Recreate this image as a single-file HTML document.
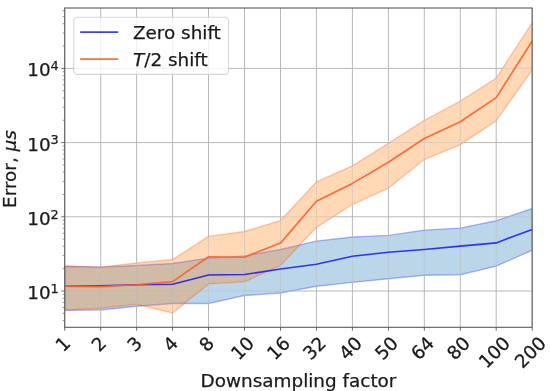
<!DOCTYPE html>
<html><head><meta charset="utf-8"><title>Error vs downsampling factor</title>
<style>
html,body{margin:0;padding:0;background:#fff;}
svg{display:block;}
text{font-family:"DejaVu Sans","Liberation Sans",sans-serif;fill:#1a1a1a;stroke:#1a1a1a;stroke-width:0.25px;}
.it{font-style:italic;}
</style></head><body>
<svg width="550" height="391" viewBox="0 0 550 391">
<rect width="550" height="391" fill="#fff"/>
<defs><clipPath id="c"><rect x="64.7" y="8.0" width="467.50000000000006" height="319.3"/></clipPath></defs>

<g clip-path="url(#c)">
<polygon points="64.7,266.2 100.7,267.1 136.6,265.5 172.6,263.5 208.5,258.1 244.5,255.9 280.5,249.5 316.4,241.1 352.4,237.0 388.4,235.4 424.3,230.1 460.3,228.1 496.2,220.8 532.2,208.5 532.2,250.2 496.2,266.2 460.3,274.8 424.3,275.3 388.4,278.8 352.4,282.4 316.4,286.3 280.5,293.0 244.5,295.5 208.5,303.5 172.6,303.5 136.6,306.3 100.7,310.0 64.7,310.3" fill="#1f77b4" fill-opacity="0.3" stroke="#0000ff" stroke-opacity="0.28" stroke-width="1.4" stroke-linejoin="miter"/>
<polygon points="64.7,266.2 100.7,267.1 136.6,263.0 172.6,259.5 208.5,236.4 244.5,231.5 280.5,220.6 316.4,181.9 352.4,165.8 388.4,143.4 424.3,120.4 460.3,101.2 496.2,78.2 532.2,22.7 532.2,70.0 496.2,120.8 460.3,144.7 424.3,159.5 388.4,188.1 352.4,204.5 316.4,227.3 280.5,265.3 244.5,281.7 208.5,283.9 172.6,312.9 136.6,304.3 100.7,308.2 64.7,310.3" fill="#ff7f0e" fill-opacity="0.3" stroke="#ff4500" stroke-opacity="0.28" stroke-width="1.4" stroke-linejoin="miter"/>
<mask id="m" maskUnits="userSpaceOnUse" x="0" y="0" width="550" height="391"><rect width="550" height="391" fill="#fff"/><polygon points="64.7,266.2 100.7,267.1 136.6,265.5 172.6,263.5 208.5,258.1 244.5,255.9 280.5,249.5 316.4,241.1 352.4,237.0 388.4,235.4 424.3,230.1 460.3,228.1 496.2,220.8 532.2,208.5 532.2,250.2 496.2,266.2 460.3,274.8 424.3,275.3 388.4,278.8 352.4,282.4 316.4,286.3 280.5,293.0 244.5,295.5 208.5,303.5 172.6,303.5 136.6,306.3 100.7,310.0 64.7,310.3" fill="#6e6e6e"/><polygon points="64.7,266.2 100.7,267.1 136.6,263.0 172.6,259.5 208.5,236.4 244.5,231.5 280.5,220.6 316.4,181.9 352.4,165.8 388.4,143.4 424.3,120.4 460.3,101.2 496.2,78.2 532.2,22.7 532.2,70.0 496.2,120.8 460.3,144.7 424.3,159.5 388.4,188.1 352.4,204.5 316.4,227.3 280.5,265.3 244.5,281.7 208.5,283.9 172.6,312.9 136.6,304.3 100.7,308.2 64.7,310.3" fill="#6e6e6e"/></mask>
<g stroke="#b8b8b8" stroke-width="1.0" fill="none" mask="url(#m)">
<line x1="64.7" y1="8.0" x2="64.7" y2="327.3"/>
<line x1="100.7" y1="8.0" x2="100.7" y2="327.3"/>
<line x1="136.6" y1="8.0" x2="136.6" y2="327.3"/>
<line x1="172.6" y1="8.0" x2="172.6" y2="327.3"/>
<line x1="208.5" y1="8.0" x2="208.5" y2="327.3"/>
<line x1="244.5" y1="8.0" x2="244.5" y2="327.3"/>
<line x1="280.5" y1="8.0" x2="280.5" y2="327.3"/>
<line x1="316.4" y1="8.0" x2="316.4" y2="327.3"/>
<line x1="352.4" y1="8.0" x2="352.4" y2="327.3"/>
<line x1="388.4" y1="8.0" x2="388.4" y2="327.3"/>
<line x1="424.3" y1="8.0" x2="424.3" y2="327.3"/>
<line x1="460.3" y1="8.0" x2="460.3" y2="327.3"/>
<line x1="496.2" y1="8.0" x2="496.2" y2="327.3"/>
<line x1="532.2" y1="8.0" x2="532.2" y2="327.3"/>
<line x1="64.7" y1="291.0" x2="532.2" y2="291.0"/>
<line x1="64.7" y1="216.8" x2="532.2" y2="216.8"/>
<line x1="64.7" y1="142.6" x2="532.2" y2="142.6"/>
<line x1="64.7" y1="68.4" x2="532.2" y2="68.4"/>
</g>
<polyline points="64.7,286.3 100.7,285.8 136.6,284.8 172.6,284.3 208.5,275.0 244.5,274.5 280.5,269.0 316.4,264.2 352.4,256.2 388.4,252.3 424.3,249.5 460.3,246.1 496.2,242.9 532.2,229.4" fill="none" stroke="#0000ff" stroke-opacity="0.76" stroke-width="1.65" stroke-linejoin="round"/>
<polyline points="64.7,286.3 100.7,286.6 136.6,284.8 172.6,281.6 208.5,256.8 244.5,257.2 280.5,243.1 316.4,201.3 352.4,183.4 388.4,162.3 424.3,138.5 460.3,121.8 496.2,97.6 532.2,41.0" fill="none" stroke="#ff5f2e" stroke-opacity="0.92" stroke-width="1.65" stroke-linejoin="round"/>
</g>
<g stroke="#6a6a6a" stroke-width="1.0" fill="none">
<line x1="64.7" y1="327.3" x2="64.7" y2="330.7"/>
<line x1="100.7" y1="327.3" x2="100.7" y2="330.7"/>
<line x1="136.6" y1="327.3" x2="136.6" y2="330.7"/>
<line x1="172.6" y1="327.3" x2="172.6" y2="330.7"/>
<line x1="208.5" y1="327.3" x2="208.5" y2="330.7"/>
<line x1="244.5" y1="327.3" x2="244.5" y2="330.7"/>
<line x1="280.5" y1="327.3" x2="280.5" y2="330.7"/>
<line x1="316.4" y1="327.3" x2="316.4" y2="330.7"/>
<line x1="352.4" y1="327.3" x2="352.4" y2="330.7"/>
<line x1="388.4" y1="327.3" x2="388.4" y2="330.7"/>
<line x1="424.3" y1="327.3" x2="424.3" y2="330.7"/>
<line x1="460.3" y1="327.3" x2="460.3" y2="330.7"/>
<line x1="496.2" y1="327.3" x2="496.2" y2="330.7"/>
<line x1="532.2" y1="327.3" x2="532.2" y2="330.7"/>
<line x1="61.3" y1="291.0" x2="64.7" y2="291.0"/>
<line x1="61.3" y1="216.8" x2="64.7" y2="216.8"/>
<line x1="61.3" y1="142.6" x2="64.7" y2="142.6"/>
<line x1="61.3" y1="68.4" x2="64.7" y2="68.4"/>
</g>
<g stroke="#8a8a8a" stroke-width="0.9" fill="none">
<line x1="62.7" y1="320.5" x2="64.7" y2="320.5"/>
<line x1="62.7" y1="313.3" x2="64.7" y2="313.3"/>
<line x1="62.7" y1="307.5" x2="64.7" y2="307.5"/>
<line x1="62.7" y1="302.5" x2="64.7" y2="302.5"/>
<line x1="62.7" y1="298.2" x2="64.7" y2="298.2"/>
<line x1="62.7" y1="294.4" x2="64.7" y2="294.4"/>
<line x1="62.7" y1="268.7" x2="64.7" y2="268.7"/>
<line x1="62.7" y1="255.6" x2="64.7" y2="255.6"/>
<line x1="62.7" y1="246.3" x2="64.7" y2="246.3"/>
<line x1="62.7" y1="239.1" x2="64.7" y2="239.1"/>
<line x1="62.7" y1="233.3" x2="64.7" y2="233.3"/>
<line x1="62.7" y1="228.3" x2="64.7" y2="228.3"/>
<line x1="62.7" y1="224.0" x2="64.7" y2="224.0"/>
<line x1="62.7" y1="220.2" x2="64.7" y2="220.2"/>
<line x1="62.7" y1="194.5" x2="64.7" y2="194.5"/>
<line x1="62.7" y1="181.4" x2="64.7" y2="181.4"/>
<line x1="62.7" y1="172.1" x2="64.7" y2="172.1"/>
<line x1="62.7" y1="164.9" x2="64.7" y2="164.9"/>
<line x1="62.7" y1="159.1" x2="64.7" y2="159.1"/>
<line x1="62.7" y1="154.1" x2="64.7" y2="154.1"/>
<line x1="62.7" y1="149.8" x2="64.7" y2="149.8"/>
<line x1="62.7" y1="146.0" x2="64.7" y2="146.0"/>
<line x1="62.7" y1="120.3" x2="64.7" y2="120.3"/>
<line x1="62.7" y1="107.2" x2="64.7" y2="107.2"/>
<line x1="62.7" y1="97.9" x2="64.7" y2="97.9"/>
<line x1="62.7" y1="90.7" x2="64.7" y2="90.7"/>
<line x1="62.7" y1="84.9" x2="64.7" y2="84.9"/>
<line x1="62.7" y1="79.9" x2="64.7" y2="79.9"/>
<line x1="62.7" y1="75.6" x2="64.7" y2="75.6"/>
<line x1="62.7" y1="71.8" x2="64.7" y2="71.8"/>
<line x1="62.7" y1="46.1" x2="64.7" y2="46.1"/>
<line x1="62.7" y1="33.0" x2="64.7" y2="33.0"/>
<line x1="62.7" y1="23.7" x2="64.7" y2="23.7"/>
<line x1="62.7" y1="16.5" x2="64.7" y2="16.5"/>
<line x1="62.7" y1="10.7" x2="64.7" y2="10.7"/>
</g>
<rect x="64.7" y="8.0" width="467.50000000000006" height="319.3" fill="none" stroke="#5a5a5a" stroke-width="1.1"/>
<text x="27.2" y="299.0" font-size="18.4">10<tspan font-size="12.9" dy="-6.2">1</tspan></text>
<text x="27.2" y="224.8" font-size="18.4">10<tspan font-size="12.9" dy="-6.2">2</tspan></text>
<text x="27.2" y="150.6" font-size="18.4">10<tspan font-size="12.9" dy="-6.2">3</tspan></text>
<text x="27.2" y="76.4" font-size="18.4">10<tspan font-size="12.9" dy="-6.2">4</tspan></text>
<text transform="translate(63.9,345.1) rotate(-45)" text-anchor="middle" y="4.8" font-size="18.4">1</text>
<text transform="translate(99.9,345.1) rotate(-45)" text-anchor="middle" y="4.8" font-size="18.4">2</text>
<text transform="translate(135.8,345.1) rotate(-45)" text-anchor="middle" y="4.8" font-size="18.4">3</text>
<text transform="translate(171.8,345.1) rotate(-45)" text-anchor="middle" y="4.8" font-size="18.4">4</text>
<text transform="translate(207.7,345.1) rotate(-45)" text-anchor="middle" y="4.8" font-size="18.4">8</text>
<text transform="translate(243.7,349.3) rotate(-45)" text-anchor="middle" y="4.8" font-size="18.4">10</text>
<text transform="translate(279.7,349.3) rotate(-45)" text-anchor="middle" y="4.8" font-size="18.4">16</text>
<text transform="translate(315.6,349.3) rotate(-45)" text-anchor="middle" y="4.8" font-size="18.4">32</text>
<text transform="translate(351.6,349.3) rotate(-45)" text-anchor="middle" y="4.8" font-size="18.4">40</text>
<text transform="translate(387.6,349.3) rotate(-45)" text-anchor="middle" y="4.8" font-size="18.4">50</text>
<text transform="translate(423.5,349.3) rotate(-45)" text-anchor="middle" y="4.8" font-size="18.4">64</text>
<text transform="translate(459.5,349.3) rotate(-45)" text-anchor="middle" y="4.8" font-size="18.4">80</text>
<text transform="translate(495.4,353.4) rotate(-45)" text-anchor="middle" y="4.8" font-size="18.4">100</text>
<text transform="translate(531.4,353.4) rotate(-45)" text-anchor="middle" y="4.8" font-size="18.4">200</text>
<text x="298.5" y="387.2" text-anchor="middle" font-size="18.4">Downsampling factor</text>
<text transform="translate(16.2,169.0) rotate(-90)" text-anchor="middle" font-size="18.4">Error, <tspan class="it">μs</tspan></text>
<rect x="73.7" y="17.2" width="154.8" height="57.2" rx="3.7" ry="3.7" fill="#fff" fill-opacity="0.8" stroke="#cccccc" stroke-opacity="0.8" stroke-width="1.15"/>
<line x1="81" y1="32.1" x2="117.4" y2="32.1" stroke="#0000ff" stroke-opacity="0.76" stroke-width="1.65" stroke-linecap="square"/>
<line x1="81" y1="59.1" x2="117.4" y2="59.1" stroke="#ff5f2e" stroke-opacity="0.92" stroke-width="1.65" stroke-linecap="square"/>
<text x="132.9" y="39.1" font-size="18.4">Zero shift</text>
<text x="133.0" y="65.8" font-size="18.4"><tspan class="it">T</tspan>/2 shift</text>
</svg></body></html>
